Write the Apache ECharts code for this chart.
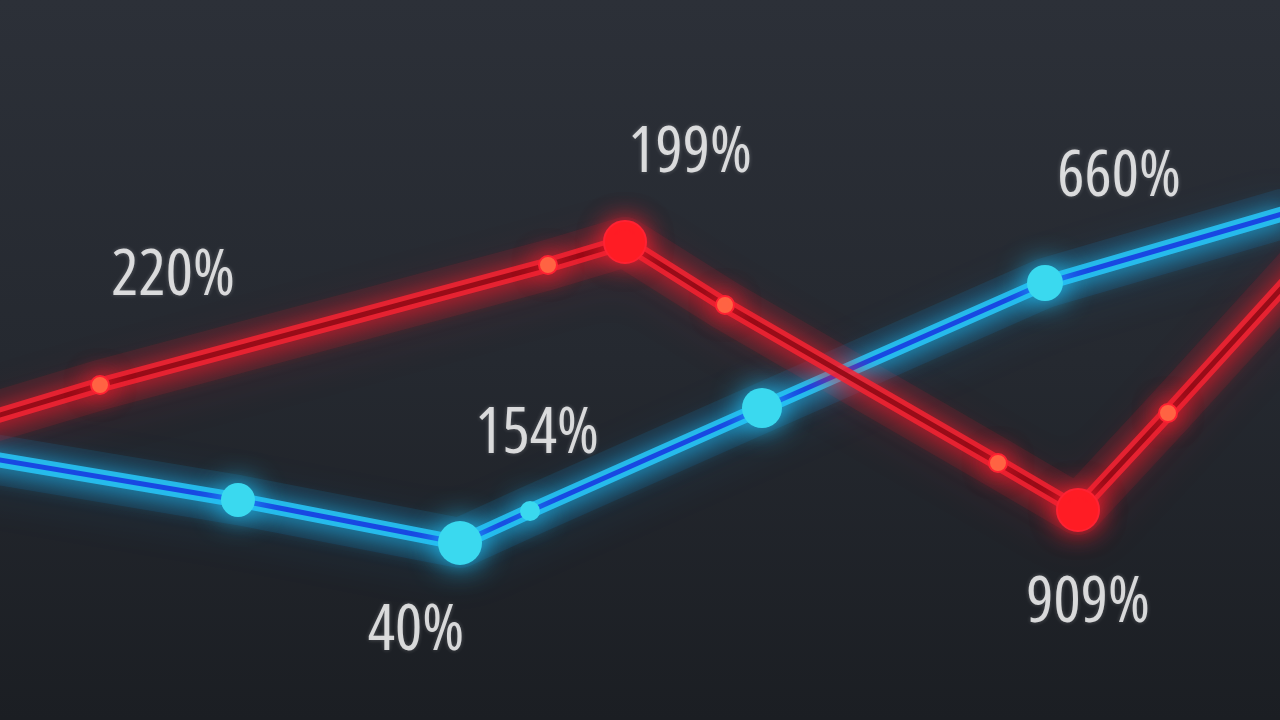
<!DOCTYPE html>
<html>
<head>
<meta charset="utf-8">
<script src="https://cdn.jsdelivr.net/npm/echarts@6/dist/echarts.min.js"></script>
<style>
html,body{margin:0;padding:0;background:#23272e;}
#chart{width:1280px;height:720px;}
</style>
</head>
<body>
<div id="chart"></div>
<script>
// Values (x: horizontal position units, y: height units)
var redX = [-60, 100, 548, 625, 725, 998, 1078, 1168, 1320];
var redY = [287, 335, 455, 478, 415, 257, 210, 307, 474];
var blueX = [-60, 238, 460, 530, 762, 1045, 1282];
var blueY = [270, 220, 177, 209, 312, 437, 506];

var labelTexts = ['220%', '199%', '154%', '40%', '660%', '909%'];
var labelX = [173, 690, 537, 416, 1119, 1088];
var labelY = [443, 566, 285, 88, 542, 116];

// marker styles (sizes per point, separate from data)
var redSizes = [0, 18, 18, 42, 18, 18, 42, 18, 0];
var blueSizes = [0, 34, 44, 20, 40, 36, 30];

function pairs(xs, ys) { return xs.map(function (x, i) { return [x, ys[i]]; }); }
var redData = pairs(redX, redY);
var blueData = pairs(blueX, blueY);
var labelData = labelX.map(function (x, i) { return { value: [x, labelY[i]], name: labelTexts[i] }; });

var chart = echarts.init(document.getElementById('chart'), null, { renderer: 'canvas' });

function glowLine(name, data, width, color, blur, shadow, offY, z) {
  return {
    name: name, type: 'line', data: data, z: z,
    symbol: 'none', silent: true, animation: false,
    lineStyle: { width: width, color: color, shadowBlur: blur, shadowColor: shadow, shadowOffsetY: offY, cap: 'round', join: 'round' }
  };
}

var option = {
  animation: false,
  backgroundColor: {
    type: 'linear', x: 0, y: 0, x2: 0, y2: 1,
    colorStops: [
      { offset: 0, color: '#2c3038' },
      { offset: 0.5, color: '#252930' },
      { offset: 1, color: '#1b1e23' }
    ]
  },
  grid: { left: 0, right: 0, top: 0, bottom: 0 },
  xAxis: { type: 'value', min: 0, max: 1280, show: false },
  yAxis: { type: 'value', min: 0, max: 720, show: false },
  series: [
    glowLine('blueBloom', blueData, 50, 'rgba(20,150,230,0.12)', 45, 'rgba(20,160,255,0.6)', 10, 1),
    glowLine('redBloom', redData, 50, 'rgba(230,30,50,0.12)', 45, 'rgba(255,30,50,0.6)', 10, 1),
    glowLine('blueHalo', blueData, 15, 'rgba(40,200,250,0.85)', 22, 'rgba(30,195,255,1)', 3, 2),
    {
      name: 'blue', type: 'line', data: blueData, z: 3, animation: false,
      symbol: 'circle',
      symbolSize: function (v, p) { return blueSizes[p.dataIndex]; },
      lineStyle: { width: 5, color: '#1848e2' },
      itemStyle: { color: '#3ad9ef', shadowBlur: 30, shadowColor: '#22c8ff' }
    },
    glowLine('redHalo', redData, 15, 'rgba(245,35,50,0.85)', 22, 'rgba(255,25,40,1)', 3, 4),
    {
      name: 'red', type: 'line', data: redData, z: 5, animation: false,
      symbol: 'circle',
      symbolSize: function (v, p) { return redSizes[p.dataIndex]; },
      lineStyle: { width: 5, color: '#980c18' },
      itemStyle: {
        color: function (p) { return redSizes[p.dataIndex] > 30 ? '#ff1c24' : '#ff6a45'; },
        borderColor: '#ff2232', borderWidth: 2,
        shadowBlur: 26, shadowColor: '#ff2030'
      }
    },
    {
      name: 'labels', type: 'scatter', data: labelData, z: 10, symbolSize: 1,
      itemStyle: { color: 'rgba(0,0,0,0)' }, animation: false,
      label: {
        show: true, position: 'inside',
        formatter: function (p) { return p.name; },
        fontFamily: '"Open Sans", "DejaVu Sans", sans-serif',
        fontWeight: '400 semi-condensed',
        fontSize: 64, color: '#ffffff',
        textShadowBlur: 4, textShadowColor: 'rgba(255,255,255,0.3)'
      }
    }
  ]
};
chart.setOption(option);
</script>
</body>
</html>
